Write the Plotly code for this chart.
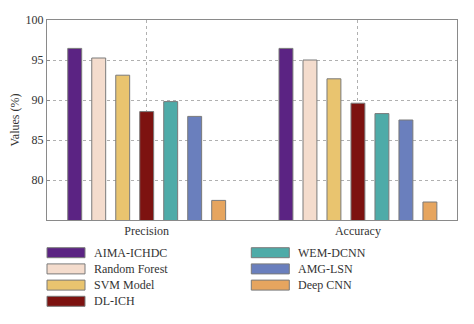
import plotly.graph_objects as go

categories = ["Precision", "Accuracy"]
models = ["AIMA-ICHDC", "Random Forest", "SVM Model", "DL-ICH", "WEM-DCNN", "AMG-LSN", "Deep CNN"]
precision = [96.45, 95.25, 93.1, 88.55, 89.8, 87.95, 77.45]
accuracy = [96.45, 95.0, 92.65, 89.6, 88.3, 87.5, 77.25]
colors = ["#5b2383", "#f4dccd", "#e9c46f", "#7d1210", "#4eaba8", "#6a7fbd", "#e6a55f"]
yticks = [80, 85, 90, 95, 100]

FONT = "Liberation Serif, Times New Roman, serif"

fig = go.Figure()
for i, m in enumerate(models):
    fig.add_trace(go.Bar(
        x=categories, y=[precision[i], accuracy[i]], name=m,
        marker=dict(color=colors[i], line=dict(color="#7a7a7a", width=1)),
        showlegend=False,
    ))

# manual legend (two columns, column-major)
W, H = 474, 324
L, R, T, B = 47, 17, 20, 104
pw, ph = W - L - R, H - T - B
def px2x(px):
    return (px - L) / pw
def py2y(py):
    return (H - B - py) / ph

col_x = [47, 251.3]
row0, dy = 252.7, 16.2
shapes, annots = [], []
for i, m in enumerate(models):
    c = 0 if i < 4 else 1
    r = i if i < 4 else i - 4
    cy = row0 + r * dy
    x0 = col_x[c]
    shapes.append(dict(type="rect", xref="paper", yref="paper",
                       x0=px2x(x0), x1=px2x(x0 + 38), y0=py2y(cy + 5), y1=py2y(cy - 5),
                       fillcolor=colors[i], line=dict(color="#7a7a7a", width=1)))
    annots.append(dict(xref="paper", yref="paper", x=px2x(x0 + 45), y=py2y(cy),
                       text=m, showarrow=False, xanchor="left", yanchor="middle",
                       font=dict(family=FONT, size=12, color="#333333")))

fig.update_layout(
    width=W, height=H,
    margin=dict(l=L, r=R, t=T, b=B),
    paper_bgcolor="white", plot_bgcolor="white",
    barmode="group", bargap=0.205, bargroupgap=0.42,
    font=dict(family=FONT, size=12, color="#333333"),
    shapes=shapes, annotations=annots,
    xaxis=dict(range=[-0.472, 1.469], showline=True, mirror=True, linecolor="#8a8a8a", linewidth=1,
               showgrid=True, gridcolor="#b0b0b0", griddash="dot", gridwidth=1,
               ticks="", tickfont=dict(family=FONT, size=12, color="#333333")),
    yaxis=dict(range=[75, 100], tickvals=yticks, showline=True, mirror=True, linecolor="#8a8a8a",
               linewidth=1, showgrid=True, gridcolor="#b0b0b0", griddash="dot", gridwidth=1,
               ticks="inside", ticklen=3, tickcolor="#8a8a8a", zeroline=False,
               title=dict(text="Values (%)", font=dict(family=FONT, size=12, color="#333333"), standoff=3),
               tickfont=dict(family=FONT, size=12, color="#333333")),
)

fig.write_html("out.html")
